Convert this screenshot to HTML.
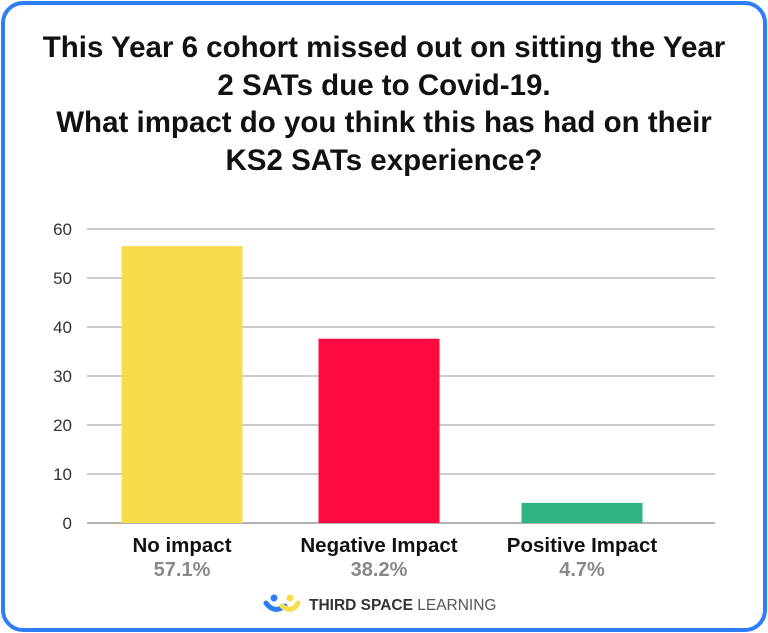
<!DOCTYPE html>
<html><head><meta charset="utf-8"><style>
body{margin:0;width:768px;height:633px;background:#fff;font-family:"Liberation Sans",sans-serif;overflow:hidden}
#frame{position:absolute;left:1px;top:1px;width:758px;height:623px;border:4px solid #2f7df6;border-radius:22px}
#title{position:absolute;left:0;top:29px;width:768px;text-align:center;font-weight:bold;font-size:29.5px;line-height:37.5px;color:#111}
</style></head><body>
<div id="frame"></div>
<div id="title">This Year 6 cohort missed out on sitting the Year<br>2 SATs due to Covid-19.<br>What impact do you think this has had on their<br>KS2 SATs experience?</div>
<svg id="chart" width="768" height="633" style="position:absolute;left:0;top:0"></svg>
<script>
const categories=["No impact","Negative Impact","Positive Impact"];
const values=[56.5,37.6,4.1];
const pctLabels=["57.1%","38.2%","4.7%"];
const ticks=[0,10,20,30,40,50,60];
const colors=["#f8dc4a","#ff0a40","#2db482"];
const svg=document.getElementById('chart');const NS="http://www.w3.org/2000/svg";
const x0=87,x1=715,yBase=523,yTop=229,vmax=60;
const bx0=82,bx1=682;
const y=v=>yBase-(v/vmax)*(yBase-yTop);
const band=(bx1-bx0)/categories.length;
const xc=i=>bx0+band*(i+0.5)-(i===1?3:0);
function mk(t,a){const e=document.createElementNS(NS,t);for(const k in a)e.setAttribute(k,a[k]);svg.appendChild(e);return e;}
ticks.forEach(t=>{
const l=mk('line',{x1:x0,x2:x1,y1:y(t),y2:y(t),stroke:t===0?'#999':'#bbb','stroke-width':1.5});


const tx=mk('text',{x:72,y:y(t)+6,'text-anchor':'end','font-size':17,fill:'#333'});tx.textContent=t;


});
categories.forEach((c,i)=>{
const w=121;
const r=mk('rect',{x:xc(i)-w/2,y:y(values[i]),width:w,height:yBase-y(values[i]),fill:colors[i]});


const t1=mk('text',{x:xc(i),y:552,'text-anchor':'middle','font-size':20.5,'font-weight':'bold',fill:'#111'});t1.textContent=c;


const t2=mk('text',{x:xc(i),y:576,'text-anchor':'middle','font-size':20,'font-weight':'bold',fill:'#888'});t2.textContent=pctLabels[i];


});
const g=document.createElementNS(NS,'g');svg.appendChild(g);


g.innerHTML='<circle cx="274" cy="598" r="3.5" fill="#2f7df6"/><circle cx="290" cy="598" r="3.5" fill="#f8dc4a"/><path d="M266 603 Q274 614 285 606" stroke="#2f7df6" stroke-width="5" fill="none" stroke-linecap="round"/><path d="M282 606 Q292 614 298 603" stroke="#f8dc4a" stroke-width="5" fill="none" stroke-linecap="round"/><text x="309" y="610" font-size="15.5" fill="#333" font-weight="bold">THIRD SPACE <tspan font-weight="normal" fill="#555">LEARNING</tspan></text>';
</script>
</body></html>
